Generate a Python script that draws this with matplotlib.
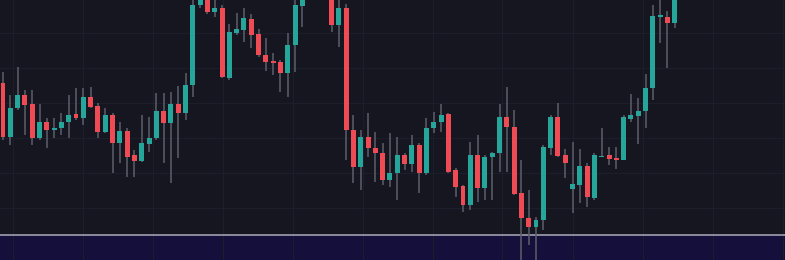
import matplotlib.pyplot as plt
import numpy as np

# OHLC (arbitrary price units)
opens = [177, 123, 152, 165, 156, 122, 138, 130, 132, 138, 146, 142, 163, 154, 128, 145,
         117, 129, 105, 99, 116, 122, 149, 137, 156, 147, 175, 255, 266, 248, 252, 182,
         227, 230, 241, 226, 205, 199, 198, 187, 215, 254, 275, 295, 285, 270, 235, 252,
         130, 93, 123, 112, 107, 80, 87, 105, 96, 115, 87, 132, 138, 146, 90, 74,
         55, 105, 72, 103, 107, 143, 133, 67, 42, 33, 40, 112, 143, 105, 71, 75,
         94, 62, 103, 105, 101.5, 100, 141, 144, 149, 172, 243.5, 243, 237]
closes = [123, 152, 165, 155, 122, 138, 130, 132, 138, 145, 142, 163, 153, 128, 145, 117,
          129, 103, 99, 117, 122, 149, 137, 156, 147, 175, 255, 272, 248, 252, 183, 228,
          231, 242, 225, 205, 198, 197, 187, 215, 255, 275, 295, 285, 270, 235, 252, 130,
          93, 123, 112, 107, 80, 87, 105, 96, 115, 87, 132, 138, 145, 88, 73, 55,
          105, 72, 103, 107, 143, 133, 66, 42, 33, 40, 113, 143, 104, 97, 76, 94,
          63, 105, 104, 101, 100.5, 143, 145, 149, 172, 244, 244.5, 237, 270]
highs = [188, 165, 193, 170, 170, 156, 142, 142, 147, 165, 172, 172, 173, 157, 152, 147,
         138, 132, 110, 145, 143, 167, 167, 168, 174, 187, 262, 280, 270, 262, 255, 236,
         247, 252, 246, 231, 222, 207, 200, 227, 263, 282, 305, 310, 292, 275, 265, 256,
         145, 130, 147, 128, 117, 127, 123, 107, 125, 117, 142, 148, 156, 147, 92, 75,
         118, 125, 105, 108, 156, 173, 150, 100, 70, 43, 115, 145, 157, 111, 118, 111,
         97, 107, 132, 113, 113, 145, 166, 162, 186, 255, 265, 249, 280]
lows = [120, 115, 150, 125, 115, 120, 112, 122, 125, 122, 140, 135, 152, 122, 127, 87,
        97, 83, 83, 98, 108, 120, 97, 77, 102, 140, 163, 252, 246, 243, 182, 180,
        225, 218, 212, 203, 189, 185, 168, 163, 188, 233, 268, 278, 264, 228, 213, 100,
        77, 70, 103, 78, 75, 73, 60, 90, 88, 67, 85, 127, 128, 87, 63, 48,
        50, 58, 60, 60, 88, 88, 65, -2, 15, -2, 30, 105, 103, 82, 47, 57,
        53, 60, 103, 95, 91, 100, 138, 116, 132, 160, 217, 192, 232]

bg = '#15161f'
up_col = '#26a69a'
down_col = '#ef4b55'
wick_col = '#5c5f6b'

x = np.arange(len(opens))
o = np.array(opens, dtype=float)
c = np.array(closes, dtype=float)
up = c >= o
body_bottom = np.minimum(o, c)
body_height = np.maximum(np.abs(c - o), 1.5)
colors = [up_col if u else down_col for u in up]

fig = plt.figure(figsize=(7.85, 2.6), dpi=100)
fig.patch.set_facecolor(bg)
ax = fig.add_axes([0, 0, 1, 1])
ax.set_facecolor(bg)

# lower pane
ax.axhspan(-50, 25, color='#140f3b', zorder=0)
ax.axhline(25, color='#a0a0b0', linewidth=1.2, zorder=1)

# faint grid
for gy in [227, 192, 157, 122, 87, 52]:
    ax.axhline(gy, color='#1c1e2b', linewidth=0.8, zorder=0.5)
for gx in [1.4, 10.9, 20.5, 30.1, 39.7, 49.3, 58.9, 68.4, 78.0, 87.6, 97.2, 106.8]:
    ax.axvline(gx, color='#1c1e2b', linewidth=0.8, zorder=0.5)

ax.vlines(x, lows, highs, color=wick_col, linewidth=1.1, zorder=2)
ax.bar(x, body_height, bottom=body_bottom, width=0.68, color=colors,
       linewidth=0, zorder=3)

ax.set_xlim(-0.41, 107.1)
ax.set_ylim(0, 260)
ax.axis('off')

plt.savefig('out.png', dpi=100, facecolor=bg)
